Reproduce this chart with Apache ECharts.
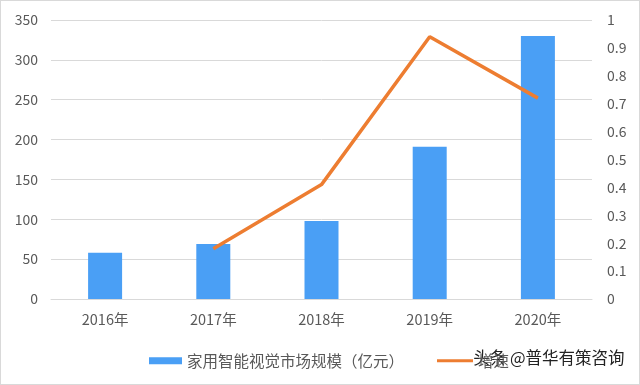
<!DOCTYPE html>
<html><head><meta charset="utf-8">
<script src="https://cdn.jsdelivr.net/npm/echarts@6/dist/echarts.min.js"></script>
<style>
html,body{margin:0;padding:0;background:#fff;}
#c{width:640px;height:385px;box-sizing:border-box;border:1px solid #d9d9d9;}
</style></head>
<body><div id="c"></div>
<script>
var categories = ['2016年','2017年','2018年','2019年','2020年'];
var marketSize = [58, 69, 98, 191, 330];
var growth = [null, 0.18, 0.41, 0.94, 0.72];
var leftTicks = [0, 350, 50];
var rightTicks = [0, 1, 0.1];
var barName = '家用智能视觉市场规模（亿元）';
var lineName = '增速';
var watermark = '头条 @普华有策咨询';

var font = '"Noto Sans CJK SC", sans-serif';
var chart = echarts.init(document.getElementById('c'));
chart.setOption({
  animation: false,
  textStyle: {fontFamily: font},
  grid: {left: 50, right: 47, top: 19, bottom: 85, containLabel: false},
  legend: [
    {data: [{name: barName, icon: 'rect'}], left: 143, top: 347, itemWidth: 33, itemHeight: 7, itemGap: 5,
     textStyle: {color: '#595959', fontSize: 15.5, fontFamily: font}},
    {data: [{name: lineName, icon: 'rect'}], left: 431, top: 347, itemWidth: 36, itemHeight: 3, itemGap: 5,
     textStyle: {color: '#595959', fontSize: 15.5, fontFamily: font}}
  ],
  xAxis: {
    type: 'category', data: categories,
    axisLine: {lineStyle: {color: '#d9d9d9'}},
    axisTick: {show: false},
    axisLabel: {color: '#595959', fontSize: 14.5, margin: 13, fontFamily: font}
  },
  yAxis: [
    {type: 'value', min: leftTicks[0], max: leftTicks[1], interval: leftTicks[2],
     axisLine: {show: false}, axisTick: {show: false},
     axisLabel: {color: '#595959', fontSize: 14, margin: 13, fontFamily: font},
     splitLine: {lineStyle: {color: '#d9d9d9', width: 1}}},
    {type: 'value', min: rightTicks[0], max: rightTicks[1], interval: rightTicks[2],
     axisLine: {show: false}, axisTick: {show: false},
     axisLabel: {color: '#595959', fontSize: 14, margin: 15, fontFamily: font,
       formatter: function(v){ return String(Math.round(v*10)/10); }},
     splitLine: {show: false}}
  ],
  series: [
    {name: barName, type: 'bar', data: marketSize, barWidth: 34, itemStyle: {color: '#4a9ff5'}},
    {name: lineName, type: 'line', yAxisIndex: 1, data: growth, symbol: 'none',
     lineStyle: {color: '#ed7d31', width: 3.5}, itemStyle: {color: '#ed7d31'}}
  ],
  graphic: [{
    type: 'text', right: 13, top: 347,
    style: {text: watermark, fill: '#222', font: '16.5px ' + font, stroke: '#fff', lineWidth: 3}
  }]
});
</script></body></html>
